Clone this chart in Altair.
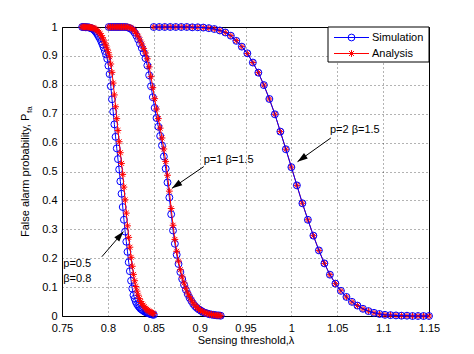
import math
import altair as alt
import pandas as pd

# ---------------- data ----------------
# curve 1: p=0.5, beta=0.8
lam1 = [0.7720, 0.7733, 0.7746, 0.7759, 0.7772, 0.7785, 0.7798, 0.7811, 0.7824, 0.7837,
        0.7850, 0.7863, 0.7876, 0.7889, 0.7902, 0.7915, 0.7928, 0.7941, 0.7954, 0.7967,
        0.7980, 0.7993, 0.8006, 0.8019, 0.8032, 0.8045, 0.8058, 0.8071, 0.8084, 0.8097,
        0.8110, 0.8123, 0.8136, 0.8149, 0.8162, 0.8175, 0.8188, 0.8201, 0.8214, 0.8227,
        0.8240, 0.8253, 0.8266, 0.8279, 0.8292, 0.8305, 0.8318, 0.8331, 0.8344, 0.8357,
        0.8370, 0.8383, 0.8396, 0.8409, 0.8422, 0.8435, 0.8448, 0.8461, 0.8474, 0.8487,
        0.8500]
sim1 = [1.000, 1.000, 1.000, 0.999, 0.999, 0.999, 0.998, 0.997, 0.995, 0.993,
        0.990, 0.985, 0.980, 0.973, 0.966, 0.959, 0.950, 0.940, 0.929, 0.917,
        0.905, 0.890, 0.866, 0.837, 0.795, 0.750, 0.707, 0.663, 0.620, 0.580,
        0.543, 0.507, 0.466, 0.423, 0.377, 0.333, 0.292, 0.257, 0.222, 0.186,
        0.155, 0.122, 0.095, 0.072, 0.060, 0.049, 0.041, 0.035, 0.030, 0.025,
        0.022, 0.019, 0.016, 0.014, 0.012, 0.010, 0.009, 0.007, 0.006, 0.005,
        0.004]
ana1 = [1.000, 1.000, 1.000, 1.000, 1.000, 0.999, 0.999, 0.998, 0.998, 0.997,
        0.995, 0.993, 0.990, 0.986, 0.982, 0.977, 0.970, 0.963, 0.955, 0.945,
        0.935, 0.923, 0.911, 0.897, 0.872, 0.843, 0.806, 0.765, 0.724, 0.683,
        0.642, 0.603, 0.565, 0.528, 0.490, 0.446, 0.402, 0.356, 0.312, 0.272,
        0.238, 0.203, 0.172, 0.144, 0.122, 0.102, 0.086, 0.072, 0.060, 0.050,
        0.043, 0.037, 0.032, 0.027, 0.023, 0.020, 0.017, 0.014, 0.012, 0.010,
        0.008]

# curve 2: p=1, beta=1.5
lam2 = [0.801, 0.803, 0.805, 0.807, 0.809, 0.811, 0.813, 0.815, 0.817, 0.819,
        0.821, 0.823, 0.825, 0.827, 0.829, 0.831, 0.833, 0.835, 0.837, 0.839,
        0.841, 0.843, 0.845, 0.847, 0.849, 0.851, 0.853, 0.855, 0.857, 0.859,
        0.861, 0.863, 0.865, 0.867, 0.869, 0.871, 0.873, 0.875, 0.877, 0.879,
        0.881, 0.883, 0.885, 0.887, 0.889, 0.891, 0.893, 0.895, 0.897, 0.899,
        0.901, 0.903, 0.905, 0.907, 0.909, 0.911, 0.913, 0.915, 0.917, 0.919,
        0.921, 0.923]
sim2 = [1.000, 1.000, 1.000, 1.000, 1.000, 1.000, 1.000, 1.000, 1.000, 1.000,
        0.999, 0.997, 0.994, 0.989, 0.981, 0.970, 0.957, 0.942, 0.927, 0.911,
        0.892, 0.867, 0.833, 0.795, 0.757, 0.720, 0.685, 0.655, 0.623, 0.590,
        0.552, 0.510, 0.462, 0.410, 0.352, 0.296, 0.250, 0.212, 0.180, 0.152,
        0.128, 0.108, 0.091, 0.076, 0.063, 0.052, 0.042, 0.034, 0.028, 0.023,
        0.019, 0.015, 0.012, 0.010, 0.008, 0.006, 0.005, 0.004, 0.003, 0.002,
        0.002, 0.001]
ana2 = [1.000, 1.000, 1.000, 1.000, 1.000, 1.000, 1.000, 1.000, 1.000, 1.000,
        1.000, 0.999, 0.997, 0.993, 0.987, 0.978, 0.968, 0.955, 0.941, 0.926,
        0.910, 0.890, 0.862, 0.828, 0.790, 0.752, 0.716, 0.683, 0.650, 0.616,
        0.578, 0.535, 0.487, 0.432, 0.372, 0.314, 0.265, 0.224, 0.190, 0.160,
        0.135, 0.114, 0.096, 0.080, 0.067, 0.055, 0.045, 0.037, 0.030, 0.024,
        0.020, 0.016, 0.013, 0.010, 0.008, 0.006, 0.005, 0.004, 0.003, 0.002,
        0.002, 0.001]

# curve 3: p=2, beta=1.5
lam3 = [0.850, 0.856, 0.862, 0.868, 0.874, 0.880, 0.886, 0.892, 0.898, 0.904,
        0.910, 0.916, 0.922, 0.928, 0.934, 0.940, 0.946, 0.952, 0.958, 0.964,
        0.970, 0.976, 0.982, 0.988, 0.994, 1.000, 1.006, 1.012, 1.018, 1.024,
        1.030, 1.036, 1.042, 1.048, 1.054, 1.060, 1.066, 1.072, 1.078, 1.084,
        1.090, 1.096, 1.102, 1.108, 1.114, 1.120, 1.126, 1.132, 1.138, 1.144,
        1.150]
sim3 = [1.000, 1.000, 1.000, 1.000, 1.000, 1.000, 1.000, 0.999, 0.999, 0.998,
        0.996, 0.993, 0.988, 0.981, 0.970, 0.952, 0.932, 0.909, 0.877, 0.842,
        0.799, 0.751, 0.698, 0.638, 0.577, 0.515, 0.452, 0.390, 0.333, 0.278,
        0.227, 0.182, 0.143, 0.112, 0.087, 0.066, 0.049, 0.036, 0.025, 0.017,
        0.011, 0.007, 0.004, 0.003, 0.002, 0.001, 0.001, 0.000, 0.000, 0.000,
        0.000]
ana3 = [1.000, 1.000, 1.000, 1.000, 1.000, 1.000, 1.000, 0.999, 0.999, 0.998,
        0.996, 0.993, 0.988, 0.981, 0.970, 0.953, 0.932, 0.908, 0.877, 0.842,
        0.799, 0.751, 0.698, 0.638, 0.577, 0.515, 0.452, 0.390, 0.333, 0.278,
        0.227, 0.182, 0.143, 0.112, 0.087, 0.066, 0.049, 0.036, 0.025, 0.017,
        0.011, 0.007, 0.004, 0.003, 0.002, 0.001, 0.001, 0.000, 0.000, 0.000,
        0.000]

x_ticks = [0.75, 0.8, 0.85, 0.9, 0.95, 1.0, 1.05, 1.1, 1.15]
y_ticks = [0, 0.1, 0.2, 0.3, 0.4, 0.5, 0.6, 0.7, 0.8, 0.9, 1.0]

series_names = ["Simulation", "Analysis"]

# annotations (data coordinates)
ann_text = ["p=2 \u03b2=1.5", "p=1 \u03b2=1.5", "p=0.5", "\u03b2=0.8"]
ann_x = [1.042, 0.9045, 0.7514, 0.7514]
ann_y = [0.644, 0.540, 0.180, 0.128]
arr_x0 = [1.043, 0.9045, 0.7934]
arr_y0 = [0.616, 0.517, 0.205]
arr_x1 = [1.0067, 0.8699, 0.8170]
arr_y1 = [0.534, 0.442, 0.292]

# ---------------- layout ----------------
W, H = 367, 289
X_DOM = [0.75, 1.15]
FONT = "Liberation Sans"

def long_df(lams, vals, names):
    rows = []
    for lam, val, nm in zip(lams, vals, names):
        for a, b in zip(lam, val):
            rows.append({"lam": a, "pfa": b, "curve": nm})
    return pd.DataFrame(rows)

sim_df = long_df([lam1, lam2, lam3], [sim1, sim2, sim3], ["c1", "c2", "c3"])
ana12_df = long_df([lam1, lam2], [ana1, ana2], ["c1", "c2"])
ana3_df = long_df([lam3], [ana3], ["c3"])

x_axis = alt.Axis(values=x_ticks, format=".2~f", title="Sensing threshold,\u03bb",
                  labelPadding=6, titlePadding=1, labelFlush=False, labelOverlap=False)
y_axis = alt.Axis(values=y_ticks, format=".1~f", title=None, labelPadding=5,
                  labelFlush=False, labelOverlap=False)
XS = alt.Scale(domain=X_DOM, nice=False, zero=False)
YS = alt.Scale(domain=[0, 1], nice=False, zero=False)
X = alt.X("lam:Q", scale=XS, axis=x_axis)
Y = alt.Y("pfa:Q", scale=YS, axis=y_axis)

STAR = "M-1,0L1,0M0,-1L0,1M-0.72,-0.72L0.72,0.72M-0.72,0.72L0.72,-0.72"
ARROW = "M0,0L0.32,1L-0.32,1Z"

def blue_layers(df):
    line = alt.Chart(df).mark_line(color="#0000FF", strokeWidth=1).encode(
        x=X, y=Y, detail="curve:N", order="lam:Q")
    pts = alt.Chart(df).mark_point(shape="circle", filled=False, color="#0000FF",
                                   strokeWidth=1, size=48, opacity=1).encode(x=X, y=Y)
    return [line, pts]

def red_layers(df):
    line = alt.Chart(df).mark_line(color="#FF0000", strokeWidth=1).encode(
        x=X, y=Y, detail="curve:N", order="lam:Q")
    pts = alt.Chart(df).mark_point(shape=STAR, filled=False, color="#FF0000",
                                   strokeWidth=1, size=46, opacity=1).encode(x=X, y=Y)
    return [line, pts]

# annotations
ann_df = pd.DataFrame({"lam": ann_x, "pfa": ann_y, "t": ann_text})
ann = alt.Chart(ann_df).mark_text(align="left", baseline="middle", font=FONT,
                                  fontSize=11, color="#000000").encode(x=X, y=Y, text="t:N")

sx = W / (X_DOM[1] - X_DOM[0])
sy = H
angles = []
for a, b, c, d in zip(arr_x0, arr_y0, arr_x1, arr_y1):
    dx = (c - a) * sx
    dy = -(d - b) * sy
    angles.append(math.degrees(math.atan2(dx, -dy)) % 360)
arr_df = pd.DataFrame({"lam": arr_x0, "pfa": arr_y0, "lam2": arr_x1, "pfa2": arr_y1,
                       "ang": angles})
arr_lines = alt.Chart(arr_df).mark_rule(color="#000000", strokeWidth=1).encode(
    x=X, y=Y, x2="lam2:Q", y2="pfa2:Q")
arr_heads = alt.Chart(arr_df).mark_point(shape=ARROW, filled=True, color="#000000",
                                         size=420, opacity=1).encode(
    x=alt.X("lam2:Q", scale=XS, axis=x_axis),
    y=alt.Y("pfa2:Q", scale=YS, axis=y_axis),
    angle=alt.Angle("ang:Q", scale=None))

# y-axis title with subscript
one = pd.DataFrame({"k": [0]})
ytitle = alt.Chart(one).mark_text(angle=270, align="left", baseline="alphabetic",
                                  font=FONT, fontSize=11, color="#000000").encode(
    x=alt.value(-33), y=alt.value(210), text=alt.value("False alarm probability, P"))
ysub = alt.Chart(one).mark_text(angle=270, align="left", baseline="alphabetic",
                                font=FONT, fontSize=8, color="#000000").encode(
    x=alt.value(-30), y=alt.value(86), text=alt.value("fa"))

# legend (top-right inside the axes)
leg_box = alt.Chart(one).mark_rect(fill="white", stroke="black", strokeWidth=1).encode(
    x=alt.value(266), x2=alt.value(367), y=alt.value(0), y2=alt.value(35))
leg_layers = [leg_box]
for i, (nm, col, shp) in enumerate(zip(series_names, ["#0000FF", "#FF0000"], ["circle", STAR])):
    yy = 10.5 + i * 16
    leg_layers.append(alt.Chart(one).mark_rule(color=col, strokeWidth=1).encode(
        x=alt.value(272), x2=alt.value(307), y=alt.value(yy)))
    leg_layers.append(alt.Chart(one).mark_point(shape=shp, filled=False, color=col,
                                                strokeWidth=1, size=46, opacity=1).encode(
        x=alt.value(289.5), y=alt.value(yy)))
    leg_layers.append(alt.Chart(one).mark_text(align="left", baseline="middle", font=FONT,
                                               fontSize=11, color="#000000").encode(
        x=alt.value(310), y=alt.value(yy), text=alt.value(nm)))

layers = (red_layers(ana3_df) + blue_layers(sim_df) + red_layers(ana12_df)
          + [arr_lines, arr_heads, ann, ytitle, ysub] + leg_layers)

chart = alt.layer(*layers).properties(
    width=W, height=H,
    autosize=alt.AutoSizeParams(type="none"),
    padding={"left": 62, "top": 27, "right": 45, "bottom": 38},
    background="white",
).configure_view(
    stroke="#000000", strokeWidth=1
).configure_axis(
    labelFont=FONT, labelFontSize=11, labelColor="#000000",
    titleFont=FONT, titleFontSize=11, titleColor="#000000", titleFontWeight="normal",
    tickSize=0, domain=False,
    grid=True, gridColor="#000000", gridOpacity=0.6, gridDash=[1, 3], gridWidth=1,
)

chart.save("out.html", embed_options={"renderer": "svg", "actions": False})
